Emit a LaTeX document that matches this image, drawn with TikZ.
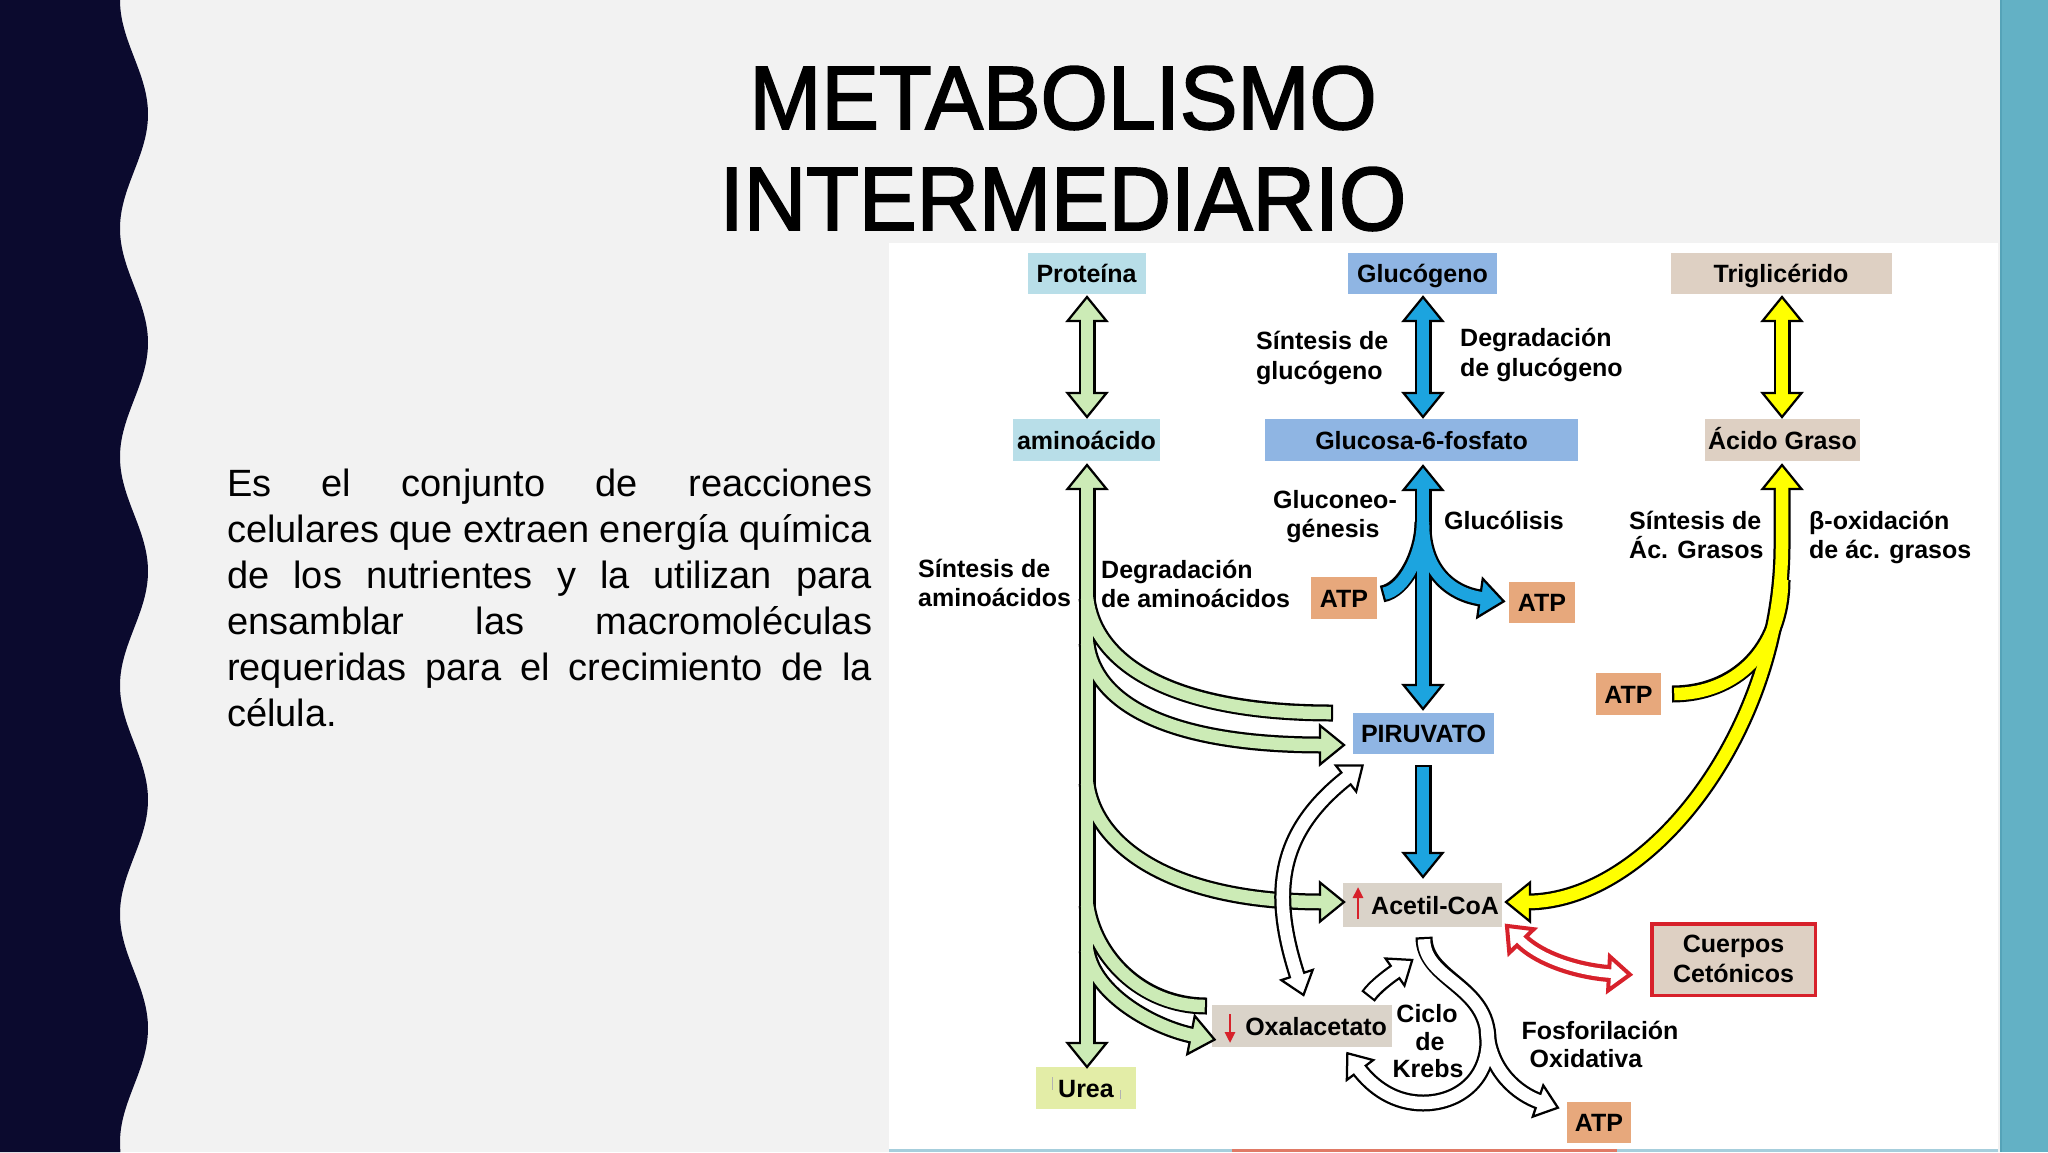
\documentclass[tikz,border=0pt]{standalone}
\usepackage{fontspec}
\setmainfont{Liberation Sans}
\newfontfamily\titlefont[FakeStretch=0.96,FakeBold=2]{Liberation Sans}
\usetikzlibrary{arrows.meta}
\definecolor{cNavy}{HTML}{0B0A2E}
\definecolor{cBg}{HTML}{F2F2F2}
\definecolor{cTeal}{HTML}{63B1C5}
\definecolor{cTealD}{HTML}{55A3B8}
\definecolor{cGreen}{HTML}{CCEBB6}
\definecolor{cBlue}{HTML}{1CA4DF}
\definecolor{cYellow}{HTML}{FFFF00}
\definecolor{cRed}{HTML}{D7212B}
\definecolor{cBoxA}{HTML}{B8DEE8}
\definecolor{cBoxB}{HTML}{8FB5E3}
\definecolor{cBoxC}{HTML}{DED0C3}
\definecolor{cBoxD}{HTML}{DAD3C9}
\definecolor{cATP}{HTML}{E7A87C}
\definecolor{cUrea}{HTML}{E3EDA7}
\definecolor{cLineT}{HTML}{A6CEDC}
\definecolor{cLineR}{HTML}{E07A66}
\newcommand\dfont{\fontsize{25}{30}\selectfont\bfseries}
% block arrow head: base centre, direction angle, fill
\newcommand\ahead[3]{\draw[line width=2.25pt, line join=miter, fill=#3, draw=black, shift={#1}, rotate=#2] (0,-19.5) -- (24,0) -- (0,19.5) -- cycle;}
\newcommand\whead[2]{\draw[line width=2.25pt, line join=miter, fill=white, draw=black, shift={#1}, rotate=#2] (0,-16.5) -- (21,0) -- (0,16.5) -- cycle;}
\newcommand\rhead[2]{\draw[line width=4pt, line join=miter, fill=white, draw=cRed, shift={#1}, rotate=#2] (0,-17) -- (21,0) -- (0,17) -- cycle;}
\begin{document}
\begin{tikzpicture}[x=1pt,y=-1pt,
 box/.style={inner sep=0pt, font=\dfont, text height=18pt, text depth=0pt},
 lbl/.style={inner sep=0pt, font=\dfont, anchor=base west},
 lblc/.style={inner sep=0pt, font=\dfont, anchor=base},
 bodytxt/.style={inner sep=0pt, anchor=base west, font=\fontsize{38}{46}\selectfont},
 ttl/.style={inner sep=0pt, anchor=base, font=\titlefont\fontsize{90}{100}\selectfont},
 outk/.style={line width=17pt, draw=black},
 inG/.style={line width=12.5pt, draw=cGreen},
 inB/.style={line width=12.5pt, draw=cBlue},
 inY/.style={line width=12.5pt, draw=cYellow},
 inW/.style={line width=12.5pt, draw=white},
 ]
\useasboundingbox (0,0) rectangle (2048,1152);
\fill[cBg] (0,0) rectangle (2048,1152);
\fill[cNavy] (0,0) -- plot[domain=0:1152,samples=300] ({134-14*cos(\x*1.5755)},\x) -- (0,1152) -- cycle;
\fill[cTeal] (2000,0) rectangle (2048,1152);
\draw[cTealD, line width=1.5pt] (2000.75,0) -- (2000.75,1152);
\fill[white] (889,243) rectangle (1998,1152);
\fill[cLineT] (889,1149) rectangle (1232,1152);
\fill[cLineR] (1232,1149) rectangle (1617,1152);
\fill[cLineT] (1617,1149) rectangle (1998,1152);

% title
\node[ttl] (t1) at (1063,129) {METABOLISMO};
\node[ttl] (t2) at (1063,230) {INTERMEDIARIO};

% body text
\node[bodytxt] (p1) at (227,496) {\makebox[645pt][s]{Es el conjunto de reacciones}};
\node[bodytxt] (p2) at (227,542) {\makebox[645pt][s]{celulares que extraen energía química}};
\node[bodytxt] (p3) at (227,588) {\makebox[645pt][s]{de los nutrientes y la utilizan para}};
\node[bodytxt] (p4) at (227,634) {\makebox[645pt][s]{ensamblar las macromoléculas}};
\node[bodytxt] (p5) at (227,680) {\makebox[645pt][s]{requeridas para el crecimiento de la}};
\node[bodytxt] (p6) at (227,726) {célula.};

% boxes
\node[box, fill=cBoxA, minimum width=118pt, minimum height=41pt] (prot) at (1086.5,273) {Proteína};
\node[box, fill=cBoxB, minimum width=149pt, minimum height=41pt] (glucog) at (1422.5,273) {Glucógeno};
\node[box, fill=cBoxC, minimum width=221pt, minimum height=41pt] (trig) at (1781,273) {Triglicérido};
\node[box, fill=cBoxA, minimum width=147pt, minimum height=42pt] (amino) at (1086.5,440) {aminoácido};
\node[box, fill=cBoxB, minimum width=313pt, minimum height=42pt] (g6p) at (1421.5,440) {Glucosa-6-fosfato};
\node[box, fill=cBoxC, minimum width=155pt, minimum height=42pt] (acg) at (1782.5,440) {Ácido Graso};
\node[box, fill=cATP, minimum width=66pt, minimum height=42pt] (atpa) at (1344,598) {ATP};
\node[box, fill=cATP, minimum width=66pt, minimum height=41pt] (atpb) at (1542,602.5) {ATP};
\node[box, fill=cATP, minimum width=65pt, minimum height=42pt] (atpc) at (1628.5,694) {ATP};
\node[box, fill=cBoxB, minimum width=141pt, minimum height=41pt] (piru) at (1423.5,733) {PIRUVATO};
\node[box, fill=cBoxD, minimum width=159pt, minimum height=44pt, text width=153pt, align=right] (acetil) at (1422.5,905) {Acetil-CoA};
\node[box, fill=cBoxD, minimum width=180pt, minimum height=42pt, text width=170pt, align=right] (oxal) at (1302,1026) {Oxalacetato};
\node[box, fill=cBoxC, draw=cRed, line width=3.5pt, minimum width=163.5pt, minimum height=71.5pt] (cuerpos) at (1733.5,959.5) {};
\node[lblc] (cuerposA) at (1733.5,952) {Cuerpos};
\node[lblc] (cuerposB) at (1733.5,982) {Cetónicos};
\node[box, fill=cUrea, minimum width=100pt, minimum height=42pt] (urea) at (1086,1088) {Urea};
\node[box, fill=cATP, minimum width=64pt, minimum height=41pt] (atpd) at (1599,1122.5) {ATP};
\draw[gray!60, line width=1pt] (1052,1077) -- (1052,1090);
\draw[gray!60, line width=1pt] (1120,1090) -- (1120,1099);

% small red arrows
\draw[cRed, line width=2.6pt, -{Triangle[width=10pt,length=11pt]}] (1358,919) -- (1358,887);
\draw[cRed, line width=2.6pt, -{Triangle[width=10pt,length=11pt]}] (1230,1014) -- (1230,1043);

% ---------- green group
\def\gA{(1087,486) -- (1087,1046)}
\def\gT{(1087,318) -- (1087,396)}
\def\gB{(1087,598) .. controls (1094,660) and (1165,713) .. (1333,713)}
\def\gC{(1087,643) .. controls (1094,702) and (1165,745) .. (1323,745)}
\def\gD{(1087,783) .. controls (1094,842) and (1165,902) .. (1323,902)}
\def\gE{(1087,905) .. controls (1094,955) and (1140,1006) .. (1207,1006)}
\def\gF{(1087,950) .. controls (1094,995) and (1155,1028) .. (1194,1035.6)}
\draw[outk] \gA; \draw[outk] \gT; \draw[outk] \gB; \draw[outk] \gC;
\draw[outk] \gD; \draw[outk] \gE; \draw[outk] \gF;
\ahead{(1087,489)}{90}{cGreen}
\ahead{(1087,1043)}{-90}{cGreen}
\ahead{(1087,321)}{90}{cGreen}
\ahead{(1087,393)}{-90}{cGreen}
\ahead{(1320,745)}{0}{cGreen}
\ahead{(1320,902)}{0}{cGreen}
\ahead{(1191,1035)}{-11}{cGreen}
\draw[inG] \gA; \draw[inG] \gT; \draw[inG, shorten >=2.25pt] \gB; \draw[inG] \gC;
\draw[inG] \gD; \draw[inG, shorten >=2.25pt] \gE; \draw[inG] \gF;

% ---------- blue group
\def\bA{(1423,487) -- (1423,688)}
\def\bT{(1423,318) -- (1423,396)}
\def\bB{(1423,522) .. controls (1423,552) and (1405,590) .. (1382,594)}
\def\bC{(1423,525) .. controls (1423,568) and (1448,594) .. (1483,598.4)}
\def\bD{(1423,765) -- (1423,856)}
\draw[outk] \bA; \draw[outk] \bT; \draw[outk] \bB; \draw[outk] \bC; \draw[outk] \bD;
\ahead{(1423,490)}{90}{cBlue}
\ahead{(1423,685)}{-90}{cBlue}
\ahead{(1423,321)}{90}{cBlue}
\ahead{(1423,393)}{-90}{cBlue}
\ahead{(1480,598)}{-8}{cBlue}
\ahead{(1423,853)}{-90}{cBlue}
\draw[inB] \bA; \draw[inB] \bT; \draw[inB, shorten >=2.25pt] \bB; \draw[inB] \bC;
\draw[inB, shorten <=2.25pt] \bD;

% ---------- yellow group
\def\yA{(1782,486) -- (1782,545) .. controls (1782,730) and (1650,902) .. (1527,902)}
\def\yB{(1672,694) .. controls (1735,694) and (1782,650) .. (1782,580)}
\def\yT{(1782,318) -- (1782,396)}
\draw[outk] \yA; \draw[outk] \yB; \draw[outk] \yT;
\ahead{(1782,489)}{90}{cYellow}
\ahead{(1530,902)}{180}{cYellow}
\ahead{(1782,321)}{90}{cYellow}
\ahead{(1782,393)}{-90}{cYellow}
\draw[inY] \yA; \draw[inY, shorten <=2.25pt] \yB; \draw[inY] \yT;

% ---------- white group
\def\wA{(1298,978) .. controls (1270,892.5) and (1277,832.4) .. (1348.4,776.6)}
\def\wB{(1424,937) .. controls (1424,980) and (1488,985) .. (1488,1040) .. controls (1488,1080) and (1458,1103) .. (1423,1103) .. controls (1395,1103) and (1373,1088) .. (1358,1068)}
\def\wC{(1487,1030) .. controls (1489,1070) and (1517,1094) .. (1541,1102)}
\def\wD{(1368,996.5) .. controls (1375,986.7) and (1387.7,977.1) .. (1397.5,970.3)}
\draw[outk] \wA; \draw[outk] \wB; \draw[outk] \wC; \draw[outk] \wD;
\whead{(1297,975)}{-72}
\whead{(1346,778.5)}{38}
\whead{(1360,1070)}{127}
\whead{(1538,1101)}{-18.6}
\whead{(1395,972)}{35}
\draw[inW] \wA; \draw[inW, shorten <=2.25pt] \wB; \draw[inW] \wC; \draw[inW, shorten <=2.25pt] \wD;

% ---------- red double arrow
\def\rA{(1519.4,938.8) .. controls (1540,960.4) and (1582,972) .. (1612,973.7)}
\draw[line width=17pt, draw=cRed] \rA;
\rhead{(1521.5,941)}{134}
\rhead{(1609,973.5)}{-3}
\draw[line width=8.5pt, draw=white] \rA;

% labels
\node[lbl] (l1a) at (1256,349) {Síntesis de};
\node[lbl] (l1b) at (1256,379) {glucógeno};
\node[lbl] (l2a) at (1460,346) {Degradación};
\node[lbl] (l2b) at (1460,376) {de glucógeno};
\node[lblc] (l3a) at (1335,508) {Gluconeo-};
\node[lblc] (l3b) at (1333,537) {génesis};
\node[lbl] (l4) at (1444,529) {Glucólisis};
\node[lbl] (l5a) at (918,577) {Síntesis de};
\node[lbl] (l5b) at (918,606) {aminoácidos};
\node[lbl] (l6a) at (1101,578) {Degradación};
\node[lbl] (l6b) at (1101,607) {de aminoácidos};
\node[lbl] (l7a) at (1629,529) {Síntesis de};
\node[lbl] (l7b) at (1629,558) {Ác. Grasos};
\node[lbl] (l8a) at (1809,529) {β-oxidación};
\node[lbl] (l8b) at (1809,558) {de ác. grasos};
\node[lblc] (k1) at (1427,1022) {Ciclo};
\node[lblc] (k2) at (1430,1050) {de};
\node[lblc] (k3) at (1428,1077) {Krebs};
\node[lblc] (f1) at (1600,1039) {Fosforilación};
\node[lblc] (f2) at (1586,1067) {Oxidativa};
\end{tikzpicture}
\end{document}
